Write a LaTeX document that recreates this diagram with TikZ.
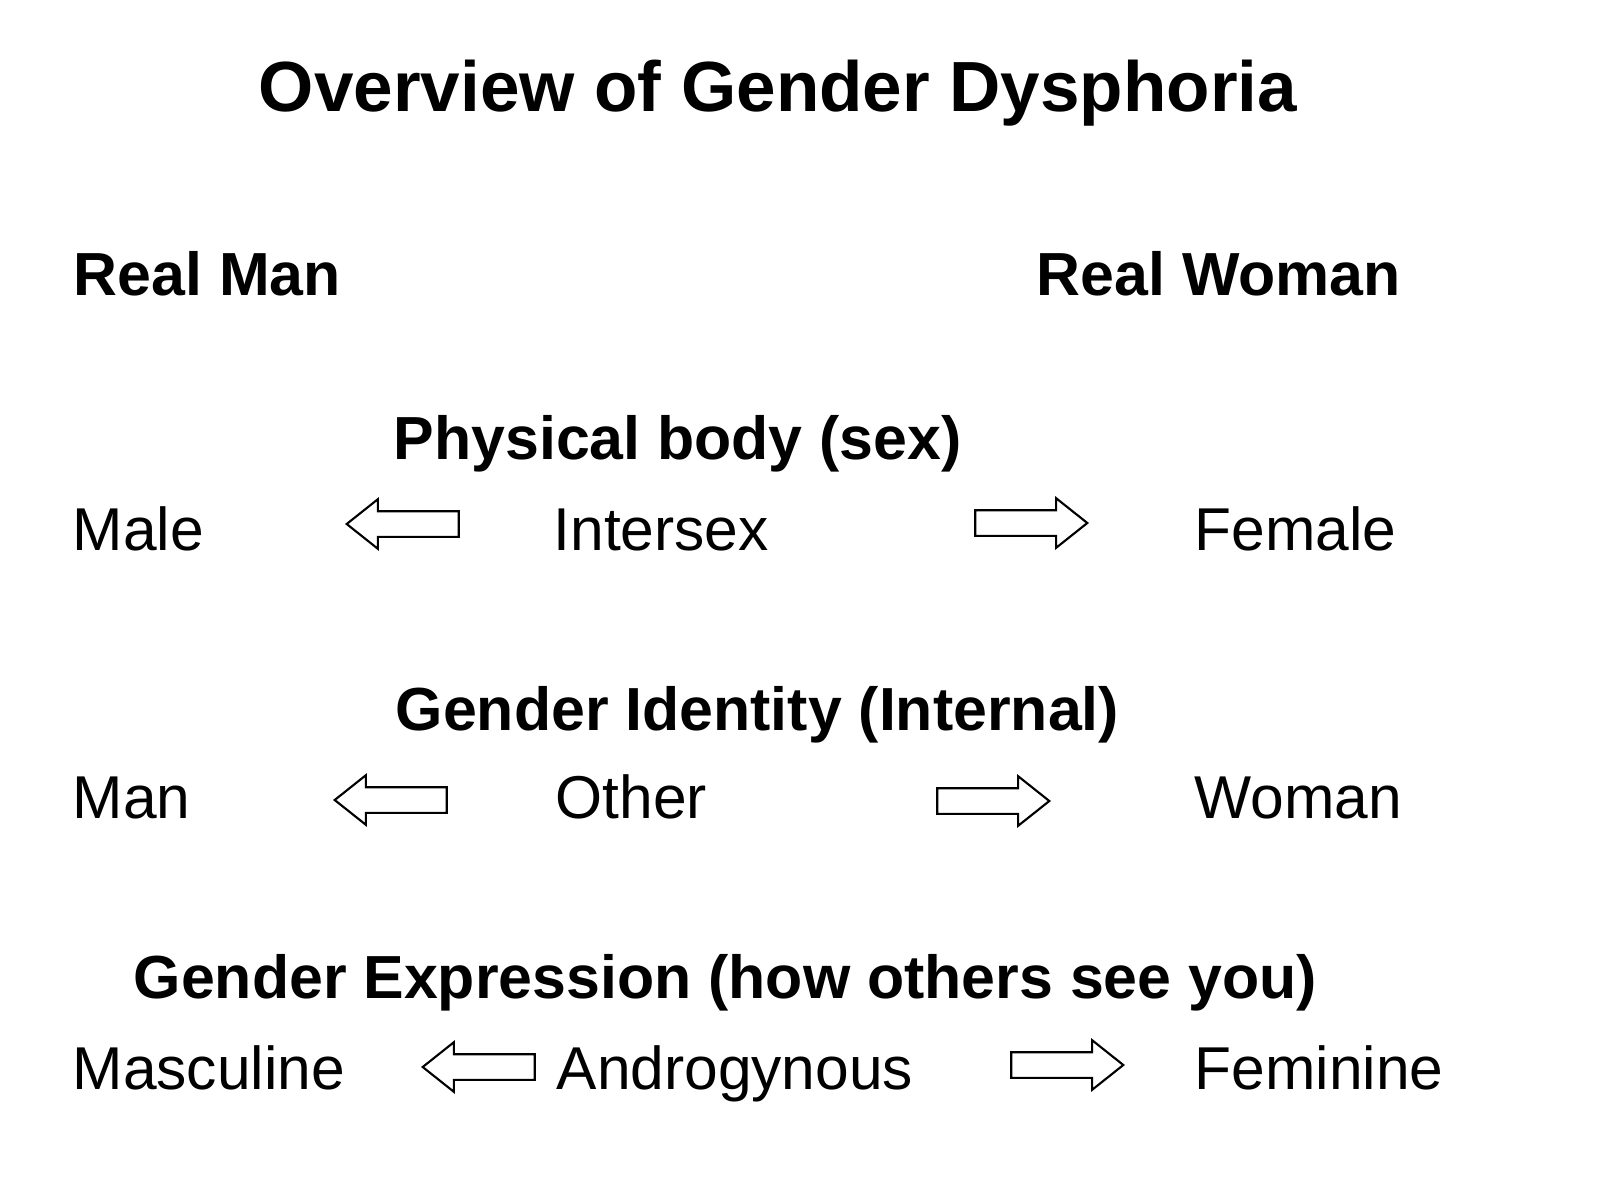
\documentclass[tikz,border=0pt]{standalone}
\usepackage{fontspec}
\setmainfont{Liberation Sans}
\usetikzlibrary{shapes.arrows}

\tikzset{
  titletext/.style={font=\fontsize{20.2}{24}\selectfont\bfseries,inner sep=0pt,anchor=base},
  headtext/.style={font=\fontsize{17.3}{20}\selectfont\bfseries,inner sep=0pt,anchor=base west},
  termtext/.style={font=\fontsize{17.2}{20}\selectfont,inner sep=0pt,anchor=base west},
  blockarrow/.style={draw,line width=0.6pt,single arrow,single arrow tip angle=77,
    single arrow head extend=0.12cm,minimum height=1.12cm,minimum width=0.48cm,
    text height=0.235cm,text depth=0pt,inner sep=0pt,anchor=tip},
}

\begin{document}
\begin{tikzpicture}[x=0.01cm,y=-0.01cm]
   \useasboundingbox[fill=white] (0,0) rectangle (1600,1200);
   \node[titletext] (title) at (778,111) {Overview of Gender Dysphoria};
   \node[headtext] (realman) at (73,295) {Real Man};
   \node[headtext] (realwoman) at (1036,295) {Real Woman};
   % physical body
   \node[headtext] (body) at (393,459) {Physical body (sex)};
   \node[termtext] (male) at (72,550) {Male};
   \node[termtext] (intersex) at (553,550) {Intersex};
   \node[termtext] (female) at (1194,550) {Female};
   \node[blockarrow,shape border rotate=180] (tomale) at (345,524) {};
   \node[blockarrow] (tofemale) at (1089,523) {};
   % identity
   \node[headtext] (identity) at (395,730) {Gender Identity (Internal)};
   \node[termtext] (man) at (72,818) {Man};
   \node[termtext] (other) at (555,818) {Other};
   \node[termtext] (woman) at (1194,818) {Woman};
   \node[blockarrow,shape border rotate=180] (toman) at (333,800) {};
   \node[blockarrow] (towoman) at (1051,801) {};
   % expression
   \node[headtext] (expression) at (133,998) {Gender Expression (how others see you)};
   \node[termtext] (masculine) at (72,1089) {Masculine};
   \node[termtext] (androgynous) at (556,1089) {Androgynous};
   \node[termtext] (feminine) at (1194,1089) {Feminine};
   \node[blockarrow,shape border rotate=180] (tomasculine) at (421,1067) {};
   \node[blockarrow] (tofeminine) at (1125,1065) {};
\end{tikzpicture}
\end{document}
